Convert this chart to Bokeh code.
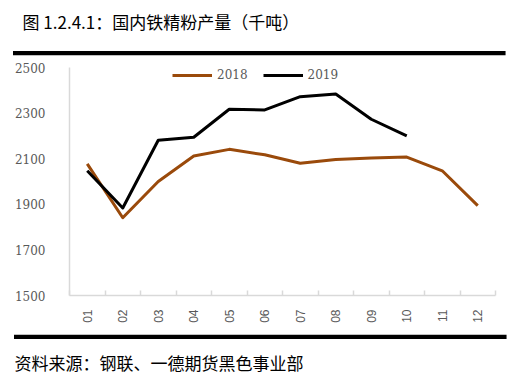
import math
from bokeh.plotting import figure
from bokeh.models import FixedTicker, Legend, LegendItem, Range1d, Title
from bokeh.embed import file_html
from bokeh.resources import INLINE

months = ["01", "02", "03", "04", "05", "06", "07", "08", "09", "10", "11", "12"]
s2018 = [2077, 1841, 2000, 2112, 2141, 2117, 2080, 2097, 2103, 2107, 2047, 1894]
s2019 = [2047, 1884, 2181, 2194, 2317, 2314, 2372, 2384, 2273, 2200]
y_ticks = [1500, 1700, 1900, 2100, 2300, 2500]
title_text = "图 1.2.4.1：国内铁精粉产量（千吨）"
source_text = "资料来源：钢联、一德期货黑色事业部"

W, H = 515, 375
GRAY = "#595959"
AXIS = "#d9d9d9"
BROWN = "#9A4A0B"

xs = [i + 0.5 for i in range(len(months))]
p = figure(width=W, height=H, x_range=Range1d(0, len(months)), y_range=Range1d(1500, 2500),
           output_backend="svg", toolbar_location=None, title_location=None,
           min_border_left=69, min_border_right=20, min_border_top=66, min_border_bottom=79)
p.outline_line_color = None
p.grid.visible = False

r18 = p.line(xs, s2018, line_color=BROWN, line_width=3, line_join="round")
r19 = p.line(xs[:len(s2019)], s2019, line_color="#000000", line_width=3, line_join="round")

p.yaxis.ticker = FixedTicker(ticks=y_ticks)
p.yaxis.axis_line_color = AXIS
p.yaxis.axis_line_width = 1.5
p.yaxis.major_tick_line_color = None
p.yaxis.minor_tick_line_color = None
p.yaxis.major_label_standoff = 18
p.yaxis.major_label_text_font = "DejaVu Serif"
p.yaxis.major_label_text_font_size = "12px"
p.yaxis.major_label_text_color = GRAY

p.xaxis.ticker = FixedTicker(ticks=xs, minor_ticks=list(range(len(months) + 1)))
p.xaxis.major_label_overrides = {x: m for x, m in zip(xs, months)}
p.xaxis.axis_line_color = AXIS
p.xaxis.axis_line_width = 1.5
p.xaxis.major_tick_line_color = None
p.xaxis.minor_tick_line_color = AXIS
p.xaxis.minor_tick_line_width = 1.5
p.xaxis.minor_tick_in = 5
p.xaxis.minor_tick_out = 0
p.xaxis.major_label_orientation = math.pi / 2
p.xaxis.major_label_standoff = 8
p.xaxis.major_label_text_font = "Liberation Sans"
p.xaxis.major_label_text_font_size = "12px"
p.xaxis.major_label_text_color = GRAY

legend = Legend(items=[LegendItem(label="2018", renderers=[r18]),
                       LegendItem(label="2019", renderers=[r19])],
                orientation="horizontal", location=(103, 213),
                border_line_color=None, background_fill_alpha=0,
                padding=0, margin=0, spacing=15,
                glyph_width=40, glyph_height=14, label_height=14, label_standoff=5,
                label_text_font="DejaVu Serif", label_text_font_size="12px",
                label_text_color=GRAY)
p.add_layout(legend, "center")

# above: rule (closest to frame), then title text
p.add_layout(Title(text=" ", text_font_size="2px", align="left", offset=-56.5, standoff=21,
                   vertical_align="top",
                   background_fill_color="#000000", padding=dict(x=246, y=1)), "above")
p.add_layout(Title(text=title_text, text_font="Noto Sans CJK SC", text_font_size="17px",
                   text_font_style="normal", text_color="#000000", align="left",
                   offset=-47, standoff=13), "above")

# below: x axis, then rule, then source text
p.add_layout(Title(text=" ", text_font_size="2px", align="left", offset=-55.5, standoff=15,
                   background_fill_color="#000000", padding=dict(x=246, y=1)), "below")
p.add_layout(Title(text=source_text, text_font="Noto Sans CJK SC", text_font_size="17px",
                   text_font_style="normal", text_color="#000000", align="left",
                   offset=-55, standoff=2), "below")

open("out.html", "w").write(file_html(p, INLINE))
